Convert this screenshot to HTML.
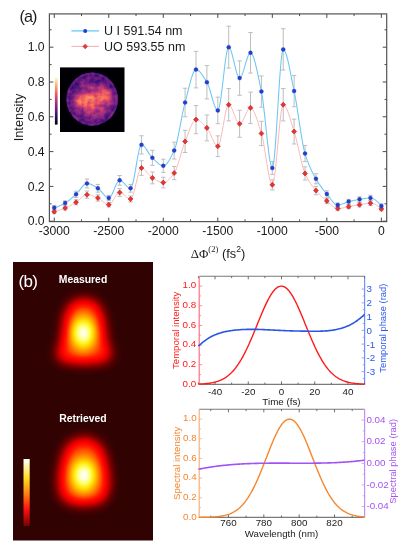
<!DOCTYPE html>
<html><head><meta charset="utf-8"><style>
html,body{margin:0;padding:0;background:#fff;width:406px;height:550px;overflow:hidden}
svg{display:block;will-change:transform}
text{font-family:"Liberation Sans", sans-serif}
</style></head><body>
<svg width="406" height="550" viewBox="0 0 406 550">
<rect x="49.4" y="13.9" width="337.30" height="207.70" fill="none" stroke="#555" stroke-width="1.2"/>
<path d="M54.25,221.6 v-4 M54.25,13.9 v4 M81.51,221.6 v-2.2 M81.51,13.9 v2.2 M108.77,221.6 v-4 M108.77,13.9 v4 M136.03,221.6 v-2.2 M136.03,13.9 v2.2 M163.28,221.6 v-4 M163.28,13.9 v4 M190.54,221.6 v-2.2 M190.54,13.9 v2.2 M217.80,221.6 v-4 M217.80,13.9 v4 M245.06,221.6 v-2.2 M245.06,13.9 v2.2 M272.32,221.6 v-4 M272.32,13.9 v4 M299.57,221.6 v-2.2 M299.57,13.9 v2.2 M326.83,221.6 v-4 M326.83,13.9 v4 M354.09,221.6 v-2.2 M354.09,13.9 v2.2 M381.35,221.6 v-4 M381.35,13.9 v4 M49.4,221.20 h4 M386.7,221.20 h-4 M49.4,203.80 h2.2 M386.7,203.80 h-2.2 M49.4,186.40 h4 M386.7,186.40 h-4 M49.4,169.00 h2.2 M386.7,169.00 h-2.2 M49.4,151.60 h4 M386.7,151.60 h-4 M49.4,134.20 h2.2 M386.7,134.20 h-2.2 M49.4,116.80 h4 M386.7,116.80 h-4 M49.4,99.40 h2.2 M386.7,99.40 h-2.2 M49.4,82.00 h4 M386.7,82.00 h-4 M49.4,64.60 h2.2 M386.7,64.60 h-2.2 M49.4,47.20 h4 M386.7,47.20 h-4 M49.4,29.80 h2.2 M386.7,29.80 h-2.2" stroke="#4a4a4a" stroke-width="1" fill="none"/>
<text x="54.25" y="235.2" text-anchor="middle" font-size="12.2" fill="#1a1a1a">-3000</text>
<text x="108.77" y="235.2" text-anchor="middle" font-size="12.2" fill="#1a1a1a">-2500</text>
<text x="163.28" y="235.2" text-anchor="middle" font-size="12.2" fill="#1a1a1a">-2000</text>
<text x="217.80" y="235.2" text-anchor="middle" font-size="12.2" fill="#1a1a1a">-1500</text>
<text x="272.32" y="235.2" text-anchor="middle" font-size="12.2" fill="#1a1a1a">-1000</text>
<text x="326.83" y="235.2" text-anchor="middle" font-size="12.2" fill="#1a1a1a">-500</text>
<text x="381.35" y="235.2" text-anchor="middle" font-size="12.2" fill="#1a1a1a">0</text>
<text x="44.6" y="225.40" text-anchor="end" font-size="12.2" fill="#1a1a1a">0.0</text>
<text x="44.6" y="190.60" text-anchor="end" font-size="12.2" fill="#1a1a1a">0.2</text>
<text x="44.6" y="155.80" text-anchor="end" font-size="12.2" fill="#1a1a1a">0.4</text>
<text x="44.6" y="121.00" text-anchor="end" font-size="12.2" fill="#1a1a1a">0.6</text>
<text x="44.6" y="86.20" text-anchor="end" font-size="12.2" fill="#1a1a1a">0.8</text>
<text x="44.6" y="51.40" text-anchor="end" font-size="12.2" fill="#1a1a1a">1.0</text>
<text transform="translate(22.8,117.5) rotate(-90)" text-anchor="middle" font-size="12.8" fill="#1a1a1a">Intensity</text>
<text x="218" y="257.8" text-anchor="middle" font-size="12.8" fill="#1a1a1a"><tspan font-family='"Liberation Serif", serif'>ΔΦ</tspan><tspan font-family='"Liberation Serif", serif' font-size="8.6" dy="-6">(2)</tspan><tspan dy="6"> (fs</tspan><tspan font-size="8.6" dy="-6">2</tspan><tspan dy="6">)</tspan></text>
<text x="19.4" y="21.6" font-size="16.2" letter-spacing="-0.9" fill="#1a1a1a">(a)</text>
<path d="M54.25,205.60 V209.75 M52.05,205.60 h4.4 M52.05,209.75 h4.4 M54.25,209.57 V213.73 M52.05,209.57 h4.4 M52.05,213.73 h4.4 M65.15,200.91 V205.09 M62.95,200.91 h4.4 M62.95,205.09 h4.4 M65.15,205.94 V210.09 M62.95,205.94 h4.4 M62.95,210.09 h4.4 M76.06,191.21 V197.49 M73.86,191.21 h4.4 M73.86,197.49 h4.4 M76.06,199.79 V204.83 M73.86,199.79 h4.4 M73.86,204.83 h4.4 M86.96,178.99 V187.91 M84.76,178.99 h4.4 M84.76,187.91 h4.4 M86.96,191.11 V198.28 M84.76,191.11 h4.4 M84.76,198.28 h4.4 M97.86,184.42 V192.17 M95.66,184.42 h4.4 M95.66,192.17 h4.4 M97.86,194.86 V201.11 M95.66,194.86 h4.4 M95.66,201.11 h4.4 M108.77,195.28 V200.68 M106.57,195.28 h4.4 M106.57,200.68 h4.4 M108.77,202.55 V206.91 M106.57,202.55 h4.4 M106.57,206.91 h4.4 M119.67,175.50 V185.17 M117.47,175.50 h4.4 M117.47,185.17 h4.4 M119.67,188.55 V196.35 M117.47,188.55 h4.4 M117.47,196.35 h4.4 M130.57,184.42 V192.17 M128.37,184.42 h4.4 M128.37,192.17 h4.4 M130.57,196.04 V202.00 M128.37,196.04 h4.4 M128.37,202.00 h4.4 M141.48,135.75 V154.00 M139.28,135.75 h4.4 M139.28,154.00 h4.4 M141.48,160.74 V175.37 M139.28,160.74 h4.4 M139.28,175.37 h4.4 M152.38,150.29 V165.40 M150.18,150.29 h4.4 M150.18,165.40 h4.4 M152.38,171.98 V183.85 M150.18,171.98 h4.4 M150.18,183.85 h4.4 M163.28,159.21 V172.40 M161.08,159.21 h4.4 M161.08,172.40 h4.4 M163.28,177.31 V187.87 M161.08,177.31 h4.4 M161.08,187.87 h4.4 M174.19,142.15 V159.02 M171.99,142.15 h4.4 M171.99,159.02 h4.4 M174.19,166.46 V179.68 M171.99,166.46 h4.4 M171.99,179.68 h4.4 M185.09,88.23 V116.74 M182.89,88.23 h4.4 M182.89,116.74 h4.4 M185.09,130.37 V152.46 M182.89,130.37 h4.4 M182.89,152.46 h4.4 M195.99,51.38 V87.85 M193.79,51.38 h4.4 M193.79,87.85 h4.4 M195.99,105.52 V133.71 M193.79,105.52 h4.4 M193.79,133.71 h4.4 M206.90,65.54 V98.95 M204.70,65.54 h4.4 M204.70,98.95 h4.4 M206.90,114.98 V140.85 M204.70,114.98 h4.4 M204.70,140.85 h4.4 M217.80,97.15 V123.74 M215.60,97.15 h4.4 M215.60,123.74 h4.4 M217.80,135.89 V156.62 M215.60,135.89 h4.4 M215.60,156.62 h4.4 M228.70,26.17 V68.08 M226.50,26.17 h4.4 M226.50,68.08 h4.4 M228.70,88.56 V120.91 M226.50,88.56 h4.4 M226.50,120.91 h4.4 M239.61,60.89 V95.30 M237.41,60.89 h4.4 M237.41,95.30 h4.4 M239.61,110.25 V137.28 M237.41,110.25 h4.4 M237.41,137.28 h4.4 M250.51,32.57 V73.10 M248.31,32.57 h4.4 M248.31,73.10 h4.4 M250.51,92.11 V123.59 M248.31,92.11 h4.4 M248.31,123.59 h4.4 M261.41,76.01 V107.16 M259.21,76.01 h4.4 M259.21,107.16 h4.4 M261.41,121.30 V145.61 M259.21,121.30 h4.4 M259.21,145.61 h4.4 M272.32,161.73 V174.38 M270.12,161.73 h4.4 M270.12,174.38 h4.4 M272.32,179.87 V189.80 M270.12,179.87 h4.4 M270.12,189.80 h4.4 M283.22,28.69 V70.06 M281.02,28.69 h4.4 M281.02,70.06 h4.4 M283.22,88.56 V120.91 M281.02,88.56 h4.4 M281.02,120.91 h4.4 M294.12,75.43 V106.71 M291.92,75.43 h4.4 M291.92,106.71 h4.4 M294.12,119.13 V143.98 M291.92,119.13 h4.4 M291.92,143.98 h4.4 M305.03,145.44 V161.60 M302.83,145.44 h4.4 M302.83,161.60 h4.4 M305.03,166.85 V179.98 M302.83,166.85 h4.4 M302.83,179.98 h4.4 M315.93,173.76 V183.80 M313.73,173.76 h4.4 M313.73,183.80 h4.4 M315.93,186.38 V194.71 M313.73,186.38 h4.4 M313.73,194.71 h4.4 M326.83,190.82 V197.19 M324.63,190.82 h4.4 M324.63,197.19 h4.4 M326.83,198.21 V203.64 M324.63,198.21 h4.4 M324.63,203.64 h4.4 M337.74,203.00 V207.15 M335.54,203.00 h4.4 M335.54,207.15 h4.4 M337.74,206.46 V210.61 M335.54,206.46 h4.4 M335.54,210.61 h4.4 M348.64,199.36 V203.88 M346.44,199.36 h4.4 M346.44,203.88 h4.4 M348.64,204.56 V208.71 M346.44,204.56 h4.4 M346.44,208.71 h4.4 M359.54,196.83 V201.90 M357.34,196.83 h4.4 M357.34,201.90 h4.4 M359.54,202.55 V206.91 M357.34,202.55 h4.4 M357.34,206.91 h4.4 M370.45,195.28 V200.68 M368.25,195.28 h4.4 M368.25,200.68 h4.4 M370.45,200.78 V205.57 M368.25,200.78 h4.4 M368.25,205.57 h4.4 M381.35,203.87 V208.02 M379.15,203.87 h4.4 M379.15,208.02 h4.4 M381.35,206.81 V210.96 M379.15,206.81 h4.4 M379.15,210.96 h4.4" stroke="#bababa" stroke-width="0.95" fill="none"/>
<path d="M54.25,211.65 L55.34,211.38 L56.43,211.08 L57.52,210.76 L58.61,210.42 L59.70,210.06 L60.79,209.69 L61.88,209.29 L62.97,208.88 L64.06,208.46 L65.15,208.02 L66.25,207.56 L67.34,207.06 L68.43,206.54 L69.52,205.99 L70.61,205.42 L71.70,204.83 L72.79,204.22 L73.88,203.59 L74.97,202.96 L76.06,202.31 L77.15,201.57 L78.24,200.68 L79.33,199.70 L80.42,198.69 L81.51,197.69 L82.60,196.75 L83.69,195.93 L84.78,195.28 L85.87,194.85 L86.96,194.70 L88.05,194.75 L89.14,194.90 L90.23,195.13 L91.32,195.43 L92.41,195.79 L93.50,196.19 L94.59,196.62 L95.68,197.08 L96.77,197.53 L97.86,197.98 L98.95,198.53 L100.05,199.25 L101.14,200.09 L102.23,200.99 L103.32,201.91 L104.41,202.78 L105.50,203.55 L106.59,204.17 L107.68,204.58 L108.77,204.73 L109.86,204.39 L110.95,203.45 L112.04,202.08 L113.13,200.41 L114.22,198.59 L115.31,196.77 L116.40,195.10 L117.49,193.72 L118.58,192.79 L119.67,192.45 L120.76,192.63 L121.85,193.13 L122.94,193.87 L124.03,194.76 L125.12,195.73 L126.21,196.71 L127.30,197.60 L128.39,198.34 L129.48,198.84 L130.57,199.02 L131.66,198.15 L132.75,195.80 L133.85,192.33 L134.94,188.12 L136.03,183.54 L137.12,178.95 L138.21,174.74 L139.30,171.27 L140.39,168.92 L141.48,168.05 L142.57,168.27 L143.66,168.88 L144.75,169.78 L145.84,170.92 L146.93,172.19 L148.02,173.53 L149.11,174.85 L150.20,176.08 L151.29,177.13 L152.38,177.92 L153.47,178.56 L154.56,179.21 L155.65,179.86 L156.74,180.47 L157.83,181.04 L158.92,181.55 L160.01,181.98 L161.10,182.30 L162.19,182.51 L163.28,182.59 L164.37,182.45 L165.46,182.06 L166.55,181.45 L167.65,180.64 L168.74,179.66 L169.83,178.53 L170.92,177.28 L172.01,175.93 L173.10,174.52 L174.19,173.07 L175.28,171.23 L176.37,168.73 L177.46,165.71 L178.55,162.30 L179.64,158.64 L180.73,154.87 L181.82,151.12 L182.91,147.54 L184.00,144.26 L185.09,141.41 L186.18,138.71 L187.27,135.84 L188.36,132.91 L189.45,130.02 L190.54,127.29 L191.63,124.81 L192.72,122.70 L193.81,121.05 L194.90,119.99 L195.99,119.61 L197.08,119.74 L198.17,120.11 L199.26,120.69 L200.35,121.44 L201.45,122.34 L202.54,123.35 L203.63,124.44 L204.72,125.59 L205.81,126.76 L206.90,127.92 L207.99,129.36 L209.08,131.29 L210.17,133.56 L211.26,136.02 L212.35,138.52 L213.44,140.90 L214.53,143.02 L215.62,144.71 L216.71,145.85 L217.80,146.26 L218.89,145.09 L219.98,141.94 L221.07,137.29 L222.16,131.64 L223.25,125.50 L224.34,119.35 L225.43,113.70 L226.52,109.05 L227.61,105.90 L228.70,104.74 L229.79,105.27 L230.88,106.72 L231.97,108.85 L233.06,111.43 L234.15,114.25 L235.25,117.07 L236.34,119.66 L237.43,121.79 L238.52,123.23 L239.61,123.77 L240.70,123.32 L241.79,122.11 L242.88,120.33 L243.97,118.16 L245.06,115.81 L246.15,113.45 L247.24,111.29 L248.33,109.51 L249.42,108.30 L250.51,107.85 L251.60,108.26 L252.69,109.42 L253.78,111.23 L254.87,113.58 L255.96,116.38 L257.05,119.52 L258.14,122.90 L259.23,126.42 L260.32,129.97 L261.41,133.45 L262.50,137.66 L263.59,143.17 L264.68,149.58 L265.77,156.46 L266.86,163.42 L267.95,170.03 L269.05,175.89 L270.14,180.59 L271.23,183.70 L272.32,184.84 L273.41,182.59 L274.50,176.50 L275.59,167.53 L276.68,156.64 L277.77,144.79 L278.86,132.93 L279.95,122.04 L281.04,113.07 L282.13,106.98 L283.22,104.74 L284.31,105.19 L285.40,106.48 L286.49,108.47 L287.58,111.04 L288.67,114.06 L289.76,117.40 L290.85,120.95 L291.94,124.58 L293.03,128.15 L294.12,131.55 L295.21,135.15 L296.30,139.31 L297.39,143.87 L298.48,148.66 L299.57,153.53 L300.66,158.32 L301.75,162.86 L302.85,167.00 L303.94,170.57 L305.03,173.42 L306.12,175.75 L307.21,177.90 L308.30,179.88 L309.39,181.71 L310.48,183.40 L311.57,184.99 L312.66,186.48 L313.75,187.89 L314.84,189.24 L315.93,190.54 L317.02,191.80 L318.11,193.00 L319.20,194.13 L320.29,195.22 L321.38,196.25 L322.47,197.25 L323.56,198.21 L324.65,199.13 L325.74,200.04 L326.83,200.92 L327.92,201.85 L329.01,202.84 L330.10,203.86 L331.19,204.87 L332.28,205.83 L333.37,206.70 L334.46,207.45 L335.55,208.03 L336.65,208.40 L337.74,208.54 L338.83,208.50 L339.92,208.40 L341.01,208.24 L342.10,208.05 L343.19,207.82 L344.28,207.58 L345.37,207.32 L346.46,207.07 L347.55,206.84 L348.64,206.63 L349.73,206.44 L350.82,206.25 L351.91,206.05 L353.00,205.85 L354.09,205.66 L355.18,205.46 L356.27,205.27 L357.36,205.09 L358.45,204.90 L359.54,204.73 L360.63,204.55 L361.72,204.35 L362.81,204.14 L363.90,203.94 L364.99,203.74 L366.08,203.56 L367.17,203.40 L368.26,203.28 L369.35,203.20 L370.45,203.17 L371.54,203.25 L372.63,203.47 L373.72,203.82 L374.81,204.29 L375.90,204.86 L376.99,205.53 L378.08,206.28 L379.17,207.09 L380.26,207.97 L381.35,208.88" stroke="#f9b9b9" stroke-width="1.0" fill="none"/>
<path d="M54.25,207.67 L55.34,207.38 L56.43,207.04 L57.52,206.65 L58.61,206.22 L59.70,205.76 L60.79,205.26 L61.88,204.73 L62.97,204.18 L64.06,203.60 L65.15,203.00 L66.25,202.35 L67.34,201.63 L68.43,200.85 L69.52,200.01 L70.61,199.12 L71.70,198.20 L72.79,197.25 L73.88,196.29 L74.97,195.32 L76.06,194.35 L77.15,193.26 L78.24,191.98 L79.33,190.58 L80.42,189.12 L81.51,187.69 L82.60,186.36 L83.69,185.20 L84.78,184.28 L85.87,183.67 L86.96,183.45 L88.05,183.53 L89.14,183.75 L90.23,184.09 L91.32,184.54 L92.41,185.07 L93.50,185.66 L94.59,186.30 L95.68,186.96 L96.77,187.64 L97.86,188.30 L98.95,189.09 L100.05,190.13 L101.14,191.34 L102.23,192.64 L103.32,193.95 L104.41,195.19 L105.50,196.30 L106.59,197.18 L107.68,197.77 L108.77,197.98 L109.86,197.49 L110.95,196.15 L112.04,194.17 L113.13,191.77 L114.22,189.16 L115.31,186.55 L116.40,184.15 L117.49,182.17 L118.58,180.83 L119.67,180.34 L120.76,180.56 L121.85,181.16 L122.94,182.06 L124.03,183.14 L125.12,184.32 L126.21,185.49 L127.30,186.58 L128.39,187.47 L129.48,188.07 L130.57,188.30 L131.66,187.08 L132.75,183.78 L133.85,178.92 L134.94,173.01 L136.03,166.58 L137.12,160.16 L138.21,154.25 L139.30,149.39 L140.39,146.09 L141.48,144.87 L142.57,145.15 L143.66,145.91 L144.75,147.05 L145.84,148.49 L146.93,150.13 L148.02,151.86 L149.11,153.59 L150.20,155.23 L151.29,156.68 L152.38,157.85 L153.47,158.87 L154.56,159.94 L155.65,161.02 L156.74,162.07 L157.83,163.06 L158.92,163.95 L160.01,164.71 L161.10,165.29 L162.19,165.67 L163.28,165.81 L164.37,165.59 L165.46,164.96 L166.55,163.97 L167.65,162.67 L168.74,161.08 L169.83,159.27 L170.92,157.27 L172.01,155.12 L173.10,152.88 L174.19,150.58 L175.28,147.71 L176.37,143.87 L177.46,139.25 L178.55,134.07 L179.64,128.52 L180.73,122.82 L181.82,117.16 L182.91,111.75 L184.00,106.79 L185.09,102.49 L186.18,98.40 L187.27,94.07 L188.36,89.65 L189.45,85.29 L190.54,81.17 L191.63,77.44 L192.72,74.26 L193.81,71.79 L194.90,70.19 L195.99,69.62 L197.08,69.81 L198.17,70.37 L199.26,71.25 L200.35,72.39 L201.45,73.75 L202.54,75.29 L203.63,76.95 L204.72,78.70 L205.81,80.48 L206.90,82.25 L207.99,84.45 L209.08,87.41 L210.17,90.90 L211.26,94.68 L212.35,98.53 L213.44,102.19 L214.53,105.45 L215.62,108.07 L216.71,109.81 L217.80,110.45 L218.89,108.67 L219.98,103.86 L221.07,96.77 L222.16,88.16 L223.25,78.79 L224.34,69.41 L225.43,60.80 L226.52,53.71 L227.61,48.90 L228.70,47.13 L229.79,47.99 L230.88,50.35 L231.97,53.82 L233.06,58.03 L234.15,62.61 L235.25,67.19 L236.34,71.41 L237.43,74.87 L238.52,77.23 L239.61,78.09 L240.70,77.39 L241.79,75.47 L242.88,72.64 L243.97,69.20 L245.06,65.47 L246.15,61.73 L247.24,58.29 L248.33,55.46 L249.42,53.54 L250.51,52.84 L251.60,53.46 L252.69,55.22 L253.78,57.97 L254.87,61.54 L255.96,65.78 L257.05,70.54 L258.14,75.66 L259.23,80.97 L260.32,86.34 L261.41,91.59 L262.50,97.90 L263.59,106.12 L264.68,115.67 L265.77,125.91 L266.86,136.25 L267.95,146.08 L269.05,154.78 L270.14,161.75 L271.23,166.38 L272.32,168.05 L273.41,164.73 L274.50,155.71 L275.59,142.42 L276.68,126.28 L277.77,108.72 L278.86,91.15 L279.95,75.01 L281.04,61.72 L282.13,52.70 L283.22,49.38 L284.31,50.09 L285.40,52.11 L286.49,55.23 L287.58,59.25 L288.67,63.97 L289.76,69.19 L290.85,74.71 L291.94,80.33 L293.03,85.85 L294.12,91.07 L295.21,96.54 L296.30,102.81 L297.39,109.64 L298.48,116.80 L299.57,124.05 L300.66,131.16 L301.75,137.89 L302.85,144.02 L303.94,149.31 L305.03,153.52 L306.12,156.97 L307.21,160.14 L308.30,163.07 L309.39,165.77 L310.48,168.27 L311.57,170.61 L312.66,172.80 L313.75,174.87 L314.84,176.86 L315.93,178.78 L317.02,180.63 L318.11,182.38 L319.20,184.05 L320.29,185.64 L321.38,187.16 L322.47,188.62 L323.56,190.03 L324.65,191.39 L325.74,192.71 L326.83,194.00 L327.92,195.35 L329.01,196.80 L330.10,198.28 L331.19,199.75 L332.28,201.14 L333.37,202.41 L334.46,203.49 L335.55,204.33 L336.65,204.88 L337.74,205.08 L338.83,205.00 L339.92,204.80 L341.01,204.50 L342.10,204.12 L343.19,203.69 L344.28,203.23 L345.37,202.76 L346.46,202.32 L347.55,201.93 L348.64,201.62 L349.73,201.35 L350.82,201.09 L351.91,200.84 L353.00,200.60 L354.09,200.36 L355.18,200.14 L356.27,199.93 L357.36,199.73 L358.45,199.54 L359.54,199.37 L360.63,199.19 L361.72,199.00 L362.81,198.82 L363.90,198.63 L364.99,198.46 L366.08,198.31 L367.17,198.17 L368.26,198.07 L369.35,198.01 L370.45,197.98 L371.54,198.09 L372.63,198.41 L373.72,198.91 L374.81,199.57 L375.90,200.38 L376.99,201.32 L378.08,202.37 L379.17,203.50 L380.26,204.70 L381.35,205.94" stroke="#6cc6f2" stroke-width="1.05" fill="none"/>
<path d="M54.25,209.10 L56.70,211.65 L54.25,214.20 L51.80,211.65Z" fill="#ee3030" stroke="#a81c1c" stroke-width="0.55"/>
<path d="M65.15,205.47 L67.60,208.02 L65.15,210.57 L62.70,208.02Z" fill="#ee3030" stroke="#a81c1c" stroke-width="0.55"/>
<path d="M76.06,199.76 L78.51,202.31 L76.06,204.86 L73.61,202.31Z" fill="#ee3030" stroke="#a81c1c" stroke-width="0.55"/>
<path d="M86.96,192.15 L89.41,194.70 L86.96,197.25 L84.51,194.70Z" fill="#ee3030" stroke="#a81c1c" stroke-width="0.55"/>
<path d="M97.86,195.43 L100.31,197.98 L97.86,200.53 L95.41,197.98Z" fill="#ee3030" stroke="#a81c1c" stroke-width="0.55"/>
<path d="M108.77,202.18 L111.22,204.73 L108.77,207.28 L106.32,204.73Z" fill="#ee3030" stroke="#a81c1c" stroke-width="0.55"/>
<path d="M119.67,189.90 L122.12,192.45 L119.67,195.00 L117.22,192.45Z" fill="#ee3030" stroke="#a81c1c" stroke-width="0.55"/>
<path d="M130.57,196.47 L133.02,199.02 L130.57,201.57 L128.12,199.02Z" fill="#ee3030" stroke="#a81c1c" stroke-width="0.55"/>
<path d="M141.48,165.50 L143.93,168.05 L141.48,170.60 L139.03,168.05Z" fill="#ee3030" stroke="#a81c1c" stroke-width="0.55"/>
<path d="M152.38,175.37 L154.83,177.92 L152.38,180.47 L149.93,177.92Z" fill="#ee3030" stroke="#a81c1c" stroke-width="0.55"/>
<path d="M163.28,180.04 L165.73,182.59 L163.28,185.14 L160.83,182.59Z" fill="#ee3030" stroke="#a81c1c" stroke-width="0.55"/>
<path d="M174.19,170.52 L176.64,173.07 L174.19,175.62 L171.74,173.07Z" fill="#ee3030" stroke="#a81c1c" stroke-width="0.55"/>
<path d="M185.09,138.86 L187.54,141.41 L185.09,143.96 L182.64,141.41Z" fill="#ee3030" stroke="#a81c1c" stroke-width="0.55"/>
<path d="M195.99,117.06 L198.44,119.61 L195.99,122.16 L193.54,119.61Z" fill="#ee3030" stroke="#a81c1c" stroke-width="0.55"/>
<path d="M206.90,125.37 L209.35,127.92 L206.90,130.47 L204.45,127.92Z" fill="#ee3030" stroke="#a81c1c" stroke-width="0.55"/>
<path d="M217.80,143.71 L220.25,146.26 L217.80,148.81 L215.35,146.26Z" fill="#ee3030" stroke="#a81c1c" stroke-width="0.55"/>
<path d="M228.70,102.19 L231.15,104.74 L228.70,107.29 L226.25,104.74Z" fill="#ee3030" stroke="#a81c1c" stroke-width="0.55"/>
<path d="M239.61,121.22 L242.06,123.77 L239.61,126.32 L237.16,123.77Z" fill="#ee3030" stroke="#a81c1c" stroke-width="0.55"/>
<path d="M250.51,105.30 L252.96,107.85 L250.51,110.40 L248.06,107.85Z" fill="#ee3030" stroke="#a81c1c" stroke-width="0.55"/>
<path d="M261.41,130.90 L263.86,133.45 L261.41,136.00 L258.96,133.45Z" fill="#ee3030" stroke="#a81c1c" stroke-width="0.55"/>
<path d="M272.32,182.28 L274.77,184.84 L272.32,187.39 L269.87,184.84Z" fill="#ee3030" stroke="#a81c1c" stroke-width="0.55"/>
<path d="M283.22,102.19 L285.67,104.74 L283.22,107.29 L280.77,104.74Z" fill="#ee3030" stroke="#a81c1c" stroke-width="0.55"/>
<path d="M294.12,129.00 L296.57,131.55 L294.12,134.10 L291.67,131.55Z" fill="#ee3030" stroke="#a81c1c" stroke-width="0.55"/>
<path d="M305.03,170.87 L307.48,173.42 L305.03,175.97 L302.58,173.42Z" fill="#ee3030" stroke="#a81c1c" stroke-width="0.55"/>
<path d="M315.93,187.99 L318.38,190.54 L315.93,193.09 L313.48,190.54Z" fill="#ee3030" stroke="#a81c1c" stroke-width="0.55"/>
<path d="M326.83,198.37 L329.28,200.92 L326.83,203.47 L324.38,200.92Z" fill="#ee3030" stroke="#a81c1c" stroke-width="0.55"/>
<path d="M337.74,205.99 L340.19,208.54 L337.74,211.09 L335.29,208.54Z" fill="#ee3030" stroke="#a81c1c" stroke-width="0.55"/>
<path d="M348.64,204.08 L351.09,206.63 L348.64,209.18 L346.19,206.63Z" fill="#ee3030" stroke="#a81c1c" stroke-width="0.55"/>
<path d="M359.54,202.18 L361.99,204.73 L359.54,207.28 L357.09,204.73Z" fill="#ee3030" stroke="#a81c1c" stroke-width="0.55"/>
<path d="M370.45,200.62 L372.90,203.17 L370.45,205.72 L368.00,203.17Z" fill="#ee3030" stroke="#a81c1c" stroke-width="0.55"/>
<path d="M381.35,206.33 L383.80,208.88 L381.35,211.43 L378.90,208.88Z" fill="#ee3030" stroke="#a81c1c" stroke-width="0.55"/>
<circle cx="54.25" cy="207.67" r="2.0" fill="#1f3fd8" stroke="#1a2e9a" stroke-width="0.3"/>
<circle cx="65.15" cy="203.00" r="2.0" fill="#1f3fd8" stroke="#1a2e9a" stroke-width="0.3"/>
<circle cx="76.06" cy="194.35" r="2.0" fill="#1f3fd8" stroke="#1a2e9a" stroke-width="0.3"/>
<circle cx="86.96" cy="183.45" r="2.0" fill="#1f3fd8" stroke="#1a2e9a" stroke-width="0.3"/>
<circle cx="97.86" cy="188.30" r="2.0" fill="#1f3fd8" stroke="#1a2e9a" stroke-width="0.3"/>
<circle cx="108.77" cy="197.98" r="2.0" fill="#1f3fd8" stroke="#1a2e9a" stroke-width="0.3"/>
<circle cx="119.67" cy="180.34" r="2.0" fill="#1f3fd8" stroke="#1a2e9a" stroke-width="0.3"/>
<circle cx="130.57" cy="188.30" r="2.0" fill="#1f3fd8" stroke="#1a2e9a" stroke-width="0.3"/>
<circle cx="141.48" cy="144.87" r="2.0" fill="#1f3fd8" stroke="#1a2e9a" stroke-width="0.3"/>
<circle cx="152.38" cy="157.85" r="2.0" fill="#1f3fd8" stroke="#1a2e9a" stroke-width="0.3"/>
<circle cx="163.28" cy="165.81" r="2.0" fill="#1f3fd8" stroke="#1a2e9a" stroke-width="0.3"/>
<circle cx="174.19" cy="150.58" r="2.0" fill="#1f3fd8" stroke="#1a2e9a" stroke-width="0.3"/>
<circle cx="185.09" cy="102.49" r="2.0" fill="#1f3fd8" stroke="#1a2e9a" stroke-width="0.3"/>
<circle cx="195.99" cy="69.62" r="2.0" fill="#1f3fd8" stroke="#1a2e9a" stroke-width="0.3"/>
<circle cx="206.90" cy="82.25" r="2.0" fill="#1f3fd8" stroke="#1a2e9a" stroke-width="0.3"/>
<circle cx="217.80" cy="110.45" r="2.0" fill="#1f3fd8" stroke="#1a2e9a" stroke-width="0.3"/>
<circle cx="228.70" cy="47.13" r="2.0" fill="#1f3fd8" stroke="#1a2e9a" stroke-width="0.3"/>
<circle cx="239.61" cy="78.09" r="2.0" fill="#1f3fd8" stroke="#1a2e9a" stroke-width="0.3"/>
<circle cx="250.51" cy="52.84" r="2.0" fill="#1f3fd8" stroke="#1a2e9a" stroke-width="0.3"/>
<circle cx="261.41" cy="91.59" r="2.0" fill="#1f3fd8" stroke="#1a2e9a" stroke-width="0.3"/>
<circle cx="272.32" cy="168.05" r="2.0" fill="#1f3fd8" stroke="#1a2e9a" stroke-width="0.3"/>
<circle cx="283.22" cy="49.38" r="2.0" fill="#1f3fd8" stroke="#1a2e9a" stroke-width="0.3"/>
<circle cx="294.12" cy="91.07" r="2.0" fill="#1f3fd8" stroke="#1a2e9a" stroke-width="0.3"/>
<circle cx="305.03" cy="153.52" r="2.0" fill="#1f3fd8" stroke="#1a2e9a" stroke-width="0.3"/>
<circle cx="315.93" cy="178.78" r="2.0" fill="#1f3fd8" stroke="#1a2e9a" stroke-width="0.3"/>
<circle cx="326.83" cy="194.00" r="2.0" fill="#1f3fd8" stroke="#1a2e9a" stroke-width="0.3"/>
<circle cx="337.74" cy="205.08" r="2.0" fill="#1f3fd8" stroke="#1a2e9a" stroke-width="0.3"/>
<circle cx="348.64" cy="201.62" r="2.0" fill="#1f3fd8" stroke="#1a2e9a" stroke-width="0.3"/>
<circle cx="359.54" cy="199.37" r="2.0" fill="#1f3fd8" stroke="#1a2e9a" stroke-width="0.3"/>
<circle cx="370.45" cy="197.98" r="2.0" fill="#1f3fd8" stroke="#1a2e9a" stroke-width="0.3"/>
<circle cx="381.35" cy="205.94" r="2.0" fill="#1f3fd8" stroke="#1a2e9a" stroke-width="0.3"/>
<path d="M71.4,30.9 H99" stroke="#5ec4f2" stroke-width="1.2"/>
<circle cx="85.2" cy="30.9" r="2.0" fill="#1f3fd8"/>
<path d="M71.4,46.4 H99" stroke="#f7b5b5" stroke-width="1.1"/>
<path d="M85.2,43.9 L87.6,46.4 L85.2,48.9 L82.8,46.4Z" fill="#e43c3c" stroke="#b82a2a" stroke-width="0.4"/>
<text x="104" y="35.1" font-size="12.5" fill="#1a1a1a">U I 591.54 nm</text>
<text x="104" y="50.7" font-size="12.5" fill="#1a1a1a">UO 593.55 nm</text>
<defs><linearGradient id="magma" x1="0" y1="1" x2="0" y2="0"><stop offset="0" stop-color="#000004"/><stop offset="0.13" stop-color="#1c1044"/><stop offset="0.25" stop-color="#4f127b"/><stop offset="0.38" stop-color="#812581"/><stop offset="0.5" stop-color="#b5367a"/><stop offset="0.63" stop-color="#e55064"/><stop offset="0.75" stop-color="#fb8761"/><stop offset="0.88" stop-color="#fec287"/><stop offset="1" stop-color="#fcfdbf"/></linearGradient><radialGradient id="disk" cx="0.5" cy="0.5" r="0.5"><stop offset="0" stop-color="#c85a8a"/><stop offset="0.55" stop-color="#8a3a9a"/><stop offset="0.85" stop-color="#5a2a8a"/><stop offset="0.97" stop-color="#7a3a9a"/><stop offset="1" stop-color="#000004"/></radialGradient><filter id="blur1" x="-20%" y="-20%" width="140%" height="140%"><feGaussianBlur stdDeviation="2.5"/></filter></defs>
<rect x="54.9" y="77.6" width="2.7" height="47" fill="url(#magma)"/>
<rect x="60" y="67.4" width="64.5" height="64.6" fill="#000004"/>
<defs><radialGradient id="diskg" cx="0.5" cy="0.5" r="0.5"><stop offset="0" stop-color="#707070"/><stop offset="0.5" stop-color="#686868"/><stop offset="0.75" stop-color="#555"/><stop offset="0.87" stop-color="#444"/><stop offset="0.94" stop-color="#555"/><stop offset="0.975" stop-color="#3c3c3c"/><stop offset="1" stop-color="#181818"/></radialGradient><clipPath id="diskclip"><ellipse cx="92.2" cy="99.1" rx="26.3" ry="27.1"/></clipPath><filter id="magmaf" x="55" y="62" width="75" height="75" filterUnits="userSpaceOnUse" color-interpolation-filters="sRGB"><feGaussianBlur in="SourceGraphic" stdDeviation="0.5" result="src"/><feTurbulence type="fractalNoise" baseFrequency="0.2" numOctaves="3" seed="11" result="nz"/><feColorMatrix in="nz" type="matrix" values="1 0 0 0 0  1 0 0 0 0  1 0 0 0 0  0 0 0 0 1" result="nzg"/><feGaussianBlur in="nzg" stdDeviation="0.6" result="nzb"/><feComposite in="src" in2="nzb" operator="arithmetic" k1="0" k2="1" k3="0.32" k4="-0.16"/><feComponentTransfer><feFuncR type="table" tableValues="0.000 0.078 0.231 0.392 0.549 0.718 0.871 0.969 0.996 0.996 0.988"/><feFuncG type="table" tableValues="0.000 0.055 0.059 0.102 0.161 0.216 0.286 0.439 0.624 0.812 0.992"/><feFuncB type="table" tableValues="0.016 0.212 0.439 0.502 0.506 0.475 0.408 0.361 0.427 0.573 0.749"/></feComponentTransfer></filter><filter id="soft" x="-50%" y="-50%" width="200%" height="200%"><feGaussianBlur stdDeviation="2.2"/></filter><filter id="soft2" x="-50%" y="-50%" width="200%" height="200%"><feGaussianBlur stdDeviation="1.2"/></filter></defs>
<g clip-path="url(#diskclip)"><g filter="url(#magmaf)"><rect x="60" y="67" width="65" height="65" fill="#000"/><ellipse cx="92.2" cy="99.1" rx="26.3" ry="27.1" fill="url(#diskg)"/><g filter="url(#soft)"><ellipse cx="88" cy="100" rx="13" ry="6.5" fill="#fff" opacity="0.42"/><ellipse cx="104" cy="95" rx="8" ry="7" fill="#fff" opacity="0.4"/><ellipse cx="110" cy="102" rx="4" ry="5" fill="#fff" opacity="0.25"/><ellipse cx="81" cy="104" rx="5" ry="6" fill="#fff" opacity="0.3"/><ellipse cx="95" cy="110" rx="11" ry="6" fill="#fff" opacity="0.18"/><ellipse cx="77.5" cy="88" rx="3" ry="8" fill="#000" opacity="0.35"/><ellipse cx="100" cy="80" rx="12" ry="5" fill="#000" opacity="0.15"/></g><g filter="url(#soft2)"><circle cx="91.5" cy="96.5" r="2.2" fill="#fff" opacity="0.3"/><circle cx="79.2" cy="109.4" r="2" fill="none" stroke="#000" stroke-width="1" opacity="0.3"/></g></g></g>
<defs><linearGradient id="hot" x1="0" y1="1" x2="0" y2="0"><stop offset="0" stop-color="#7a0000"/><stop offset="0.25" stop-color="#ff1010"/><stop offset="0.5" stop-color="#ff8a10"/><stop offset="0.72" stop-color="#ffe020"/><stop offset="1" stop-color="#ffffff"/></linearGradient><radialGradient id="gcore" cx="0.5" cy="0.5" r="0.5"><stop offset="0.000" stop-color="#ff0000" stop-opacity="1.0000"/><stop offset="0.042" stop-color="#ff0000" stop-opacity="0.9922"/><stop offset="0.083" stop-color="#ff0000" stop-opacity="0.9692"/><stop offset="0.125" stop-color="#ff0000" stop-opacity="0.9321"/><stop offset="0.167" stop-color="#ff0000" stop-opacity="0.8825"/><stop offset="0.208" stop-color="#ff0000" stop-opacity="0.8226"/><stop offset="0.250" stop-color="#ff0000" stop-opacity="0.7548"/><stop offset="0.292" stop-color="#ff0000" stop-opacity="0.6819"/><stop offset="0.333" stop-color="#ff0000" stop-opacity="0.6065"/><stop offset="0.375" stop-color="#ff0000" stop-opacity="0.5311"/><stop offset="0.417" stop-color="#ff0000" stop-opacity="0.4578"/><stop offset="0.458" stop-color="#ff0000" stop-opacity="0.3886"/><stop offset="0.500" stop-color="#ff0000" stop-opacity="0.3247"/><stop offset="0.542" stop-color="#ff0000" stop-opacity="0.2671"/><stop offset="0.583" stop-color="#ff0000" stop-opacity="0.2163"/><stop offset="0.625" stop-color="#ff0000" stop-opacity="0.1724"/><stop offset="0.667" stop-color="#ff0000" stop-opacity="0.1353"/><stop offset="0.708" stop-color="#ff0000" stop-opacity="0.1046"/><stop offset="0.750" stop-color="#ff0000" stop-opacity="0.0796"/><stop offset="0.792" stop-color="#ff0000" stop-opacity="0.0596"/><stop offset="0.833" stop-color="#ff0000" stop-opacity="0.0439"/><stop offset="0.875" stop-color="#ff0000" stop-opacity="0.0319"/><stop offset="0.917" stop-color="#ff0000" stop-opacity="0.0228"/><stop offset="0.958" stop-color="#ff0000" stop-opacity="0.0160"/><stop offset="1.000" stop-color="#ff0000" stop-opacity="0.0111"/></radialGradient><clipPath id="panelclip"><rect x="13" y="262" width="140" height="278.5"/></clipPath><filter id="hotmap" x="0" y="200" width="200" height="400" filterUnits="userSpaceOnUse" color-interpolation-filters="sRGB"><feGaussianBlur stdDeviation="6"/><feColorMatrix type="matrix" values="0.6438 0.5 0 0 0  0.6438 0.5 0 0 0  0.6438 0.5 0 0 0  0 0 0 1 0"/><feComponentTransfer><feFuncR type="table" tableValues="0.19 0.4 0.62 0.85 1 1 1 1 1 1 1"/><feFuncG type="table" tableValues="0.01 0 0 0 0 0.12 0.37 0.62 0.87 1 1"/><feFuncB type="table" tableValues="0.01 0 0 0 0 0 0 0 0 0.35 1"/></feComponentTransfer></filter></defs>
<g clip-path="url(#panelclip)"><g filter="url(#hotmap)"><rect x="-20" y="220" width="220" height="360" fill="#000"/><path d="M84.00,299.00 L91.00,300.00 L95.00,302.00 L99.00,306.00 L102.00,312.00 L104.00,322.00 L105.50,336.00 L107.50,344.00 L110.00,350.00 L111.00,356.00 L109.00,360.00 L101.00,362.50 L84.00,363.50 L84.00,363.50 L67.00,362.50 L59.00,360.00 L57.00,356.00 L58.00,350.00 L60.50,344.00 L62.50,336.00 L64.00,322.00 L66.00,312.00 L69.00,306.00 L73.00,302.00 L77.00,300.00 L84.00,299.00Z" fill="#00ff00"/><path d="M84.00,438.00 L91.00,439.00 L95.50,441.00 L100.00,445.00 L104.00,452.00 L106.50,462.00 L109.00,476.00 L109.00,488.00 L107.00,496.00 L103.00,501.00 L96.00,503.50 L84.00,504.50 L84.00,504.50 L72.00,503.50 L65.00,501.00 L61.00,496.00 L59.00,488.00 L59.00,476.00 L61.50,462.00 L64.00,452.00 L68.00,445.00 L72.50,441.00 L77.00,439.00 L84.00,438.00Z" fill="#00ff00"/><ellipse cx="83.3" cy="333" rx="25.20" ry="36.00" fill="url(#gcore)" style="mix-blend-mode:screen"/><ellipse cx="83.8" cy="475.3" rx="26.40" ry="36.90" fill="url(#gcore)" style="mix-blend-mode:screen"/></g></g>
<rect x="23.5" y="459" width="6.2" height="67" fill="url(#hot)"/>
<text x="18.6" y="286.6" font-size="17" letter-spacing="-0.7" fill="#ffffff">(b)</text>
<text x="83" y="282.8" text-anchor="middle" font-size="10.4" font-weight="bold" fill="#ffffff">Measured</text>
<text x="83" y="422" text-anchor="middle" font-size="10.4" font-weight="bold" fill="#ffffff">Retrieved</text>
<path d="M199.2,276.3 H364.6 M199.2,384.4 H364.6" stroke="#7a7a7a" stroke-width="1.1"/>
<path d="M199.2,276.3 V384.4" stroke="#ff7080" stroke-width="1.2"/>
<path d="M364.6,276.3 V384.4" stroke="#7090ff" stroke-width="1.2"/>
<path d="M198.40,384.4 v-1.8 M198.40,276.3 v1.8 M215.02,384.4 v-3 M215.02,276.3 v3 M231.64,384.4 v-1.8 M231.64,276.3 v1.8 M248.26,384.4 v-3 M248.26,276.3 v3 M264.88,384.4 v-1.8 M264.88,276.3 v1.8 M281.50,384.4 v-3 M281.50,276.3 v3 M298.12,384.4 v-1.8 M298.12,276.3 v1.8 M314.74,384.4 v-3 M314.74,276.3 v3 M331.36,384.4 v-1.8 M331.36,276.3 v1.8 M347.98,384.4 v-3 M347.98,276.3 v3 M364.60,384.4 v-1.8 M364.60,276.3 v1.8" stroke="#4a4a4a" stroke-width="0.8"/>
<path d="M199.2,384.40 h3 M199.2,374.57 h1.8 M199.2,364.75 h3 M199.2,354.92 h1.8 M199.2,345.09 h3 M199.2,335.26 h1.8 M199.2,325.44 h3 M199.2,315.61 h1.8 M199.2,305.78 h3 M199.2,295.95 h1.8 M199.2,286.13 h3" stroke="#ff7080" stroke-width="0.8"/>
<path d="M364.6,371.64 h-3 M364.6,364.76 h-1.8 M364.6,357.88 h-3 M364.6,351.00 h-1.8 M364.6,344.11 h-3 M364.6,337.23 h-1.8 M364.6,330.35 h-3 M364.6,323.47 h-1.8 M364.6,316.59 h-3 M364.6,309.70 h-1.8 M364.6,302.82 h-3 M364.6,295.94 h-1.8 M364.6,289.06 h-3 M364.6,378.52 h-1.8" stroke="#7090ff" stroke-width="0.8"/>
<text x="215.02" y="395.0" text-anchor="middle" font-size="9.8" fill="#1a1a1a">-40</text>
<text x="248.26" y="395.0" text-anchor="middle" font-size="9.8" fill="#1a1a1a">-20</text>
<text x="281.50" y="395.0" text-anchor="middle" font-size="9.8" fill="#1a1a1a">0</text>
<text x="314.74" y="395.0" text-anchor="middle" font-size="9.8" fill="#1a1a1a">20</text>
<text x="347.98" y="395.0" text-anchor="middle" font-size="9.8" fill="#1a1a1a">40</text>
<text x="281.50" y="404.6" text-anchor="middle" font-size="9.8" fill="#1a1a1a">Time (fs)</text>
<text x="196.2" y="386.70" text-anchor="end" font-size="9.8" fill="#ff1a1a">0.0</text>
<text x="196.2" y="367.05" text-anchor="end" font-size="9.8" fill="#ff1a1a">0.2</text>
<text x="196.2" y="347.39" text-anchor="end" font-size="9.8" fill="#ff1a1a">0.4</text>
<text x="196.2" y="327.74" text-anchor="end" font-size="9.8" fill="#ff1a1a">0.6</text>
<text x="196.2" y="308.08" text-anchor="end" font-size="9.8" fill="#ff1a1a">0.8</text>
<text x="196.2" y="288.43" text-anchor="end" font-size="9.8" fill="#ff1a1a">1.0</text>
<text x="366.4" y="375.04" font-size="9.8" fill="#2d56e8">-3</text>
<text x="366.4" y="361.28" font-size="9.8" fill="#2d56e8">-2</text>
<text x="366.4" y="347.51" font-size="9.8" fill="#2d56e8">-1</text>
<text x="366.4" y="333.75" font-size="9.8" fill="#2d56e8">0</text>
<text x="366.4" y="319.99" font-size="9.8" fill="#2d56e8">1</text>
<text x="366.4" y="306.22" font-size="9.8" fill="#2d56e8">2</text>
<text x="366.4" y="292.46" font-size="9.8" fill="#2d56e8">3</text>
<text transform="translate(179.2,330.35) rotate(-90)" text-anchor="middle" font-size="9.6" fill="#ff1a1a">Temporal intensity</text>
<text transform="translate(386.2,328.2) rotate(-90)" text-anchor="middle" font-size="9.4" fill="#2d56e8">Temporal phase (rad)</text>
<path d="M198.40,384.12 L199.23,384.09 L200.06,384.05 L200.89,384.01 L201.72,383.96 L202.56,383.91 L203.39,383.85 L204.22,383.78 L205.05,383.71 L205.88,383.64 L206.71,383.55 L207.54,383.46 L208.37,383.35 L209.20,383.24 L210.03,383.12 L210.87,382.98 L211.70,382.83 L212.53,382.67 L213.36,382.49 L214.19,382.30 L215.02,382.09 L215.85,381.87 L216.68,381.62 L217.51,381.36 L218.34,381.07 L219.18,380.76 L220.01,380.43 L220.84,380.07 L221.67,379.69 L222.50,379.27 L223.33,378.83 L224.16,378.36 L224.99,377.85 L225.82,377.31 L226.65,376.73 L227.49,376.12 L228.32,375.47 L229.15,374.78 L229.98,374.04 L230.81,373.27 L231.64,372.45 L232.47,371.58 L233.30,370.67 L234.13,369.71 L234.96,368.71 L235.80,367.65 L236.63,366.54 L237.46,365.38 L238.29,364.18 L239.12,362.92 L239.95,361.60 L240.78,360.24 L241.61,358.83 L242.44,357.36 L243.27,355.84 L244.11,354.28 L244.94,352.66 L245.77,351.00 L246.60,349.30 L247.43,347.54 L248.26,345.75 L249.09,343.92 L249.92,342.05 L250.75,340.15 L251.58,338.22 L252.42,336.25 L253.25,334.27 L254.08,332.26 L254.91,330.24 L255.74,328.20 L256.57,326.16 L257.40,324.12 L258.23,322.07 L259.06,320.03 L259.89,318.01 L260.73,316.00 L261.56,314.01 L262.39,312.05 L263.22,310.13 L264.05,308.24 L264.88,306.40 L265.71,304.60 L266.54,302.86 L267.37,301.18 L268.20,299.57 L269.04,298.03 L269.87,296.56 L270.70,295.17 L271.53,293.87 L272.36,292.65 L273.19,291.53 L274.02,290.51 L274.85,289.59 L275.68,288.77 L276.51,288.06 L277.35,287.45 L278.18,286.96 L279.01,286.58 L279.84,286.31 L280.67,286.16 L281.50,286.13 L282.33,286.21 L283.16,286.41 L283.99,286.72 L284.82,287.14 L285.65,287.68 L286.49,288.33 L287.32,289.08 L288.15,289.94 L288.98,290.91 L289.81,291.97 L290.64,293.13 L291.47,294.38 L292.30,295.72 L293.13,297.14 L293.97,298.63 L294.80,300.21 L295.63,301.85 L296.46,303.55 L297.29,305.31 L298.12,307.13 L298.95,308.99 L299.78,310.89 L300.61,312.83 L301.44,314.80 L302.28,316.80 L303.11,318.82 L303.94,320.85 L304.77,322.89 L305.60,324.93 L306.43,326.98 L307.26,329.02 L308.09,331.05 L308.92,333.07 L309.75,335.06 L310.59,337.04 L311.42,338.99 L312.25,340.91 L313.08,342.80 L313.91,344.66 L314.74,346.47 L315.57,348.25 L316.40,349.98 L317.23,351.67 L318.06,353.31 L318.90,354.91 L319.73,356.46 L320.56,357.95 L321.39,359.40 L322.22,360.79 L323.05,362.13 L323.88,363.43 L324.71,364.67 L325.54,365.85 L326.37,366.99 L327.21,368.08 L328.04,369.11 L328.87,370.10 L329.70,371.04 L330.53,371.93 L331.36,372.78 L332.19,373.58 L333.02,374.34 L333.85,375.06 L334.68,375.73 L335.51,376.37 L336.35,376.97 L337.18,377.53 L338.01,378.06 L338.84,378.55 L339.67,379.01 L340.50,379.44 L341.33,379.84 L342.16,380.22 L342.99,380.57 L343.83,380.89 L344.66,381.19 L345.49,381.47 L346.32,381.72 L347.15,381.96 L347.98,382.18 L348.81,382.38 L349.64,382.57 L350.47,382.74 L351.30,382.89 L352.13,383.04 L352.97,383.17 L353.80,383.29 L354.63,383.40 L355.46,383.50 L356.29,383.59 L357.12,383.67 L357.95,383.74 L358.78,383.81 L359.61,383.87 L360.45,383.93 L361.28,383.98 L362.11,384.02 L362.94,384.07 L363.77,384.10 L364.60,384.13" stroke="#ff1a1a" stroke-width="1.4" fill="none"/>
<path d="M198.40,346.20 L199.45,345.19 L200.49,344.23 L201.54,343.31 L202.58,342.44 L203.63,341.61 L204.67,340.81 L205.72,340.06 L206.76,339.34 L207.81,338.66 L208.85,338.02 L209.90,337.41 L210.94,336.83 L211.99,336.29 L213.03,335.78 L214.08,335.29 L215.12,334.84 L216.17,334.41 L217.22,334.01 L218.26,333.63 L219.31,333.28 L220.35,332.95 L221.40,332.64 L222.44,332.35 L223.49,332.09 L224.53,331.84 L225.58,331.61 L226.62,331.39 L227.67,331.19 L228.71,331.01 L229.76,330.84 L230.80,330.68 L231.85,330.53 L232.89,330.40 L233.94,330.27 L234.98,330.15 L236.03,330.04 L237.08,329.94 L238.12,329.85 L239.17,329.77 L240.21,329.70 L241.26,329.63 L242.30,329.57 L243.35,329.52 L244.39,329.47 L245.44,329.43 L246.48,329.40 L247.53,329.38 L248.57,329.36 L249.62,329.34 L250.66,329.34 L251.71,329.33 L252.75,329.34 L253.80,329.34 L254.85,329.36 L255.89,329.37 L256.94,329.39 L257.98,329.42 L259.03,329.45 L260.07,329.48 L261.12,329.51 L262.16,329.55 L263.21,329.59 L264.25,329.64 L265.30,329.68 L266.34,329.73 L267.39,329.78 L268.43,329.83 L269.48,329.88 L270.52,329.93 L271.57,329.99 L272.62,330.04 L273.66,330.10 L274.71,330.15 L275.75,330.21 L276.80,330.26 L277.84,330.32 L278.89,330.37 L279.93,330.42 L280.98,330.47 L282.02,330.52 L283.07,330.57 L284.11,330.62 L285.16,330.66 L286.20,330.70 L287.25,330.74 L288.29,330.78 L289.34,330.81 L290.38,330.84 L291.43,330.88 L292.48,330.90 L293.52,330.93 L294.57,330.96 L295.61,330.98 L296.66,331.01 L297.70,331.03 L298.75,331.05 L299.79,331.07 L300.84,331.09 L301.88,331.11 L302.93,331.12 L303.97,331.14 L305.02,331.15 L306.06,331.16 L307.11,331.18 L308.15,331.19 L309.20,331.20 L310.25,331.21 L311.29,331.22 L312.34,331.23 L313.38,331.23 L314.43,331.24 L315.47,331.24 L316.52,331.23 L317.56,331.22 L318.61,331.21 L319.65,331.19 L320.70,331.16 L321.74,331.13 L322.79,331.09 L323.83,331.04 L324.88,330.98 L325.92,330.91 L326.97,330.83 L328.02,330.74 L329.06,330.63 L330.11,330.52 L331.15,330.39 L332.20,330.24 L333.24,330.09 L334.29,329.91 L335.33,329.73 L336.38,329.52 L337.42,329.30 L338.47,329.06 L339.51,328.80 L340.56,328.52 L341.60,328.21 L342.65,327.89 L343.69,327.54 L344.74,327.17 L345.78,326.78 L346.83,326.35 L347.88,325.90 L348.92,325.43 L349.97,324.92 L351.01,324.39 L352.06,323.82 L353.10,323.22 L354.15,322.59 L355.19,321.93 L356.24,321.23 L357.28,320.50 L358.33,319.73 L359.37,318.92 L360.42,318.07 L361.46,317.19 L362.51,316.27 L363.55,315.30 L364.60,314.29" stroke="#2d56e8" stroke-width="1.6" fill="none"/>
<path d="M199.2,409.3 H364.6 M199.2,517.4 H364.6" stroke="#7a7a7a" stroke-width="1.1"/>
<path d="M199.2,409.3 V517.4" stroke="#f8b07a" stroke-width="1.2"/>
<path d="M364.6,409.3 V517.4" stroke="#c090f8" stroke-width="1.2"/>
<path d="M210.78,517.4 v-1.8 M210.78,409.3 v1.8 M228.46,517.4 v-3 M228.46,409.3 v3 M246.14,517.4 v-1.8 M246.14,409.3 v1.8 M263.82,517.4 v-3 M263.82,409.3 v3 M281.50,517.4 v-1.8 M281.50,409.3 v1.8 M299.18,517.4 v-3 M299.18,409.3 v3 M316.86,517.4 v-1.8 M316.86,409.3 v1.8 M334.54,517.4 v-3 M334.54,409.3 v3 M352.22,517.4 v-1.8 M352.22,409.3 v1.8" stroke="#4a4a4a" stroke-width="0.8"/>
<path d="M199.2,517.40 h3 M199.2,507.57 h1.8 M199.2,497.75 h3 M199.2,487.92 h1.8 M199.2,478.09 h3 M199.2,468.26 h1.8 M199.2,458.44 h3 M199.2,448.61 h1.8 M199.2,438.78 h3 M199.2,428.95 h1.8 M199.2,419.13 h3" stroke="#f8b07a" stroke-width="0.8"/>
<path d="M364.6,506.59 h-3 M364.6,495.78 h-1.8 M364.6,484.97 h-3 M364.6,474.16 h-1.8 M364.6,463.35 h-3 M364.6,452.54 h-1.8 M364.6,441.73 h-3 M364.6,430.92 h-1.8 M364.6,420.11 h-3" stroke="#c090f8" stroke-width="0.8"/>
<text x="228.46" y="526.4" text-anchor="middle" font-size="9.8" fill="#1a1a1a">760</text>
<text x="263.82" y="526.4" text-anchor="middle" font-size="9.8" fill="#1a1a1a">780</text>
<text x="299.18" y="526.4" text-anchor="middle" font-size="9.8" fill="#1a1a1a">800</text>
<text x="334.54" y="526.4" text-anchor="middle" font-size="9.8" fill="#1a1a1a">820</text>
<text x="281.50" y="537.4" text-anchor="middle" font-size="9.7" fill="#1a1a1a">Wavelength (nm)</text>
<text x="196.6" y="519.70" text-anchor="end" font-size="9.8" fill="#f5862e">0.0</text>
<text x="196.6" y="500.05" text-anchor="end" font-size="9.8" fill="#f5862e">0.2</text>
<text x="196.6" y="480.39" text-anchor="end" font-size="9.8" fill="#f5862e">0.4</text>
<text x="196.6" y="460.74" text-anchor="end" font-size="9.8" fill="#f5862e">0.6</text>
<text x="196.6" y="441.08" text-anchor="end" font-size="9.8" fill="#f5862e">0.8</text>
<text x="196.6" y="421.43" text-anchor="end" font-size="9.8" fill="#f5862e">1.0</text>
<text x="366.4" y="509.29" font-size="9.8" fill="#a452f5">-0.04</text>
<text x="366.4" y="487.67" font-size="9.8" fill="#a452f5">-0.02</text>
<text x="366.4" y="466.05" font-size="9.8" fill="#a452f5">0.00</text>
<text x="366.4" y="444.43" font-size="9.8" fill="#a452f5">0.02</text>
<text x="366.4" y="422.81" font-size="9.8" fill="#a452f5">0.04</text>
<text transform="translate(180.2,463.35) rotate(-90)" text-anchor="middle" font-size="9.6" fill="#f5862e">Spectral intensity</text>
<text transform="translate(396.2,461.3) rotate(-90)" text-anchor="middle" font-size="9.4" fill="#a452f5">Spectral phase (rad)</text>
<path d="M198.40,517.36 L199.28,517.35 L200.17,517.34 L201.05,517.33 L201.94,517.32 L202.82,517.31 L203.70,517.30 L204.59,517.28 L205.47,517.27 L206.36,517.25 L207.24,517.22 L208.12,517.20 L209.01,517.17 L209.89,517.14 L210.78,517.10 L211.66,517.06 L212.54,517.01 L213.43,516.96 L214.31,516.90 L215.20,516.83 L216.08,516.76 L216.96,516.68 L217.85,516.59 L218.73,516.48 L219.62,516.37 L220.50,516.25 L221.39,516.11 L222.27,515.96 L223.15,515.79 L224.04,515.60 L224.92,515.40 L225.81,515.17 L226.69,514.93 L227.57,514.66 L228.46,514.37 L229.34,514.05 L230.23,513.70 L231.11,513.32 L231.99,512.92 L232.88,512.47 L233.76,511.99 L234.65,511.48 L235.53,510.92 L236.41,510.32 L237.30,509.68 L238.18,508.99 L239.07,508.25 L239.95,507.46 L240.83,506.62 L241.72,505.73 L242.60,504.78 L243.49,503.77 L244.37,502.71 L245.25,501.58 L246.14,500.40 L247.02,499.15 L247.91,497.84 L248.79,496.46 L249.67,495.02 L250.56,493.52 L251.44,491.95 L252.33,490.32 L253.21,488.63 L254.09,486.87 L254.98,485.06 L255.86,483.19 L256.75,481.26 L257.63,479.28 L258.51,477.25 L259.40,475.17 L260.28,473.05 L261.17,470.90 L262.05,468.71 L262.94,466.49 L263.82,464.24 L264.70,461.98 L265.59,459.71 L266.47,457.43 L267.36,455.16 L268.24,452.89 L269.12,450.63 L270.01,448.40 L270.89,446.20 L271.78,444.03 L272.66,441.91 L273.54,439.84 L274.43,437.83 L275.31,435.89 L276.20,434.03 L277.08,432.24 L277.96,430.54 L278.85,428.94 L279.73,427.44 L280.62,426.05 L281.50,424.77 L282.38,423.62 L283.27,422.58 L284.15,421.68 L285.04,420.91 L285.92,420.27 L286.80,419.77 L287.69,419.41 L288.57,419.20 L289.46,419.13 L290.34,419.20 L291.22,419.41 L292.11,419.77 L292.99,420.27 L293.88,420.91 L294.76,421.68 L295.64,422.58 L296.53,423.62 L297.41,424.77 L298.30,426.05 L299.18,427.44 L300.06,428.94 L300.95,430.54 L301.83,432.24 L302.72,434.03 L303.60,435.89 L304.49,437.83 L305.37,439.84 L306.25,441.91 L307.14,444.03 L308.02,446.20 L308.91,448.40 L309.79,450.63 L310.67,452.89 L311.56,455.16 L312.44,457.43 L313.33,459.71 L314.21,461.98 L315.09,464.24 L315.98,466.49 L316.86,468.71 L317.75,470.90 L318.63,473.05 L319.51,475.17 L320.40,477.25 L321.28,479.28 L322.17,481.26 L323.05,483.19 L323.93,485.06 L324.82,486.87 L325.70,488.63 L326.59,490.32 L327.47,491.95 L328.35,493.52 L329.24,495.02 L330.12,496.46 L331.01,497.84 L331.89,499.15 L332.77,500.40 L333.66,501.58 L334.54,502.71 L335.43,503.77 L336.31,504.78 L337.19,505.73 L338.08,506.62 L338.96,507.46 L339.85,508.25 L340.73,508.99 L341.61,509.68 L342.50,510.32 L343.38,510.92 L344.27,511.48 L345.15,511.99 L346.04,512.47 L346.92,512.92 L347.80,513.32 L348.69,513.70 L349.57,514.05 L350.46,514.37 L351.34,514.66 L352.22,514.93 L353.11,515.17 L353.99,515.40 L354.88,515.60 L355.76,515.79 L356.64,515.96 L357.53,516.11 L358.41,516.25 L359.30,516.37 L360.18,516.48 L361.06,516.59 L361.95,516.68 L362.83,516.76 L363.72,516.83 L364.60,516.90" stroke="#f5862e" stroke-width="1.4" fill="none"/>
<path d="M198.40,469.29 L199.45,469.07 L200.49,468.86 L201.54,468.66 L202.58,468.46 L203.63,468.27 L204.67,468.08 L205.72,467.89 L206.76,467.71 L207.81,467.54 L208.85,467.36 L209.90,467.20 L210.94,467.04 L211.99,466.88 L213.03,466.72 L214.08,466.57 L215.12,466.43 L216.17,466.29 L217.22,466.15 L218.26,466.01 L219.31,465.89 L220.35,465.76 L221.40,465.64 L222.44,465.52 L223.49,465.40 L224.53,465.29 L225.58,465.19 L226.62,465.08 L227.67,464.98 L228.71,464.89 L229.76,464.79 L230.80,464.70 L231.85,464.62 L232.89,464.53 L233.94,464.45 L234.98,464.37 L236.03,464.30 L237.08,464.23 L238.12,464.16 L239.17,464.09 L240.21,464.03 L241.26,463.97 L242.30,463.91 L243.35,463.86 L244.39,463.80 L245.44,463.75 L246.48,463.71 L247.53,463.66 L248.57,463.62 L249.62,463.58 L250.66,463.54 L251.71,463.50 L252.75,463.47 L253.80,463.44 L254.85,463.41 L255.89,463.38 L256.94,463.35 L257.98,463.33 L259.03,463.31 L260.07,463.29 L261.12,463.27 L262.16,463.25 L263.21,463.23 L264.25,463.22 L265.30,463.21 L266.34,463.20 L267.39,463.19 L268.43,463.18 L269.48,463.17 L270.52,463.16 L271.57,463.16 L272.62,463.15 L273.66,463.15 L274.71,463.14 L275.75,463.14 L276.80,463.14 L277.84,463.14 L278.89,463.14 L279.93,463.14 L280.98,463.15 L282.02,463.15 L283.07,463.15 L284.11,463.15 L285.16,463.16 L286.20,463.16 L287.25,463.16 L288.29,463.17 L289.34,463.17 L290.38,463.18 L291.43,463.18 L292.48,463.19 L293.52,463.19 L294.57,463.19 L295.61,463.20 L296.66,463.20 L297.70,463.21 L298.75,463.21 L299.79,463.21 L300.84,463.21 L301.88,463.21 L302.93,463.21 L303.97,463.21 L305.02,463.21 L306.06,463.21 L307.11,463.21 L308.15,463.21 L309.20,463.20 L310.25,463.20 L311.29,463.19 L312.34,463.19 L313.38,463.18 L314.43,463.17 L315.47,463.16 L316.52,463.14 L317.56,463.13 L318.61,463.12 L319.65,463.10 L320.70,463.08 L321.74,463.06 L322.79,463.04 L323.83,463.02 L324.88,462.99 L325.92,462.97 L326.97,462.94 L328.02,462.91 L329.06,462.87 L330.11,462.84 L331.15,462.80 L332.20,462.76 L333.24,462.72 L334.29,462.68 L335.33,462.63 L336.38,462.58 L337.42,462.53 L338.47,462.48 L339.51,462.42 L340.56,462.36 L341.60,462.30 L342.65,462.24 L343.69,462.17 L344.74,462.10 L345.78,462.03 L346.83,461.95 L347.88,461.87 L348.92,461.79 L349.97,461.71 L351.01,461.62 L352.06,461.53 L353.10,461.43 L354.15,461.33 L355.19,461.23 L356.24,461.13 L357.28,461.02 L358.33,460.91 L359.37,460.79 L360.42,460.67 L361.46,460.55 L362.51,460.42 L363.55,460.29 L364.60,460.15" stroke="#a452f5" stroke-width="1.6" fill="none"/>
</svg></body></html>
